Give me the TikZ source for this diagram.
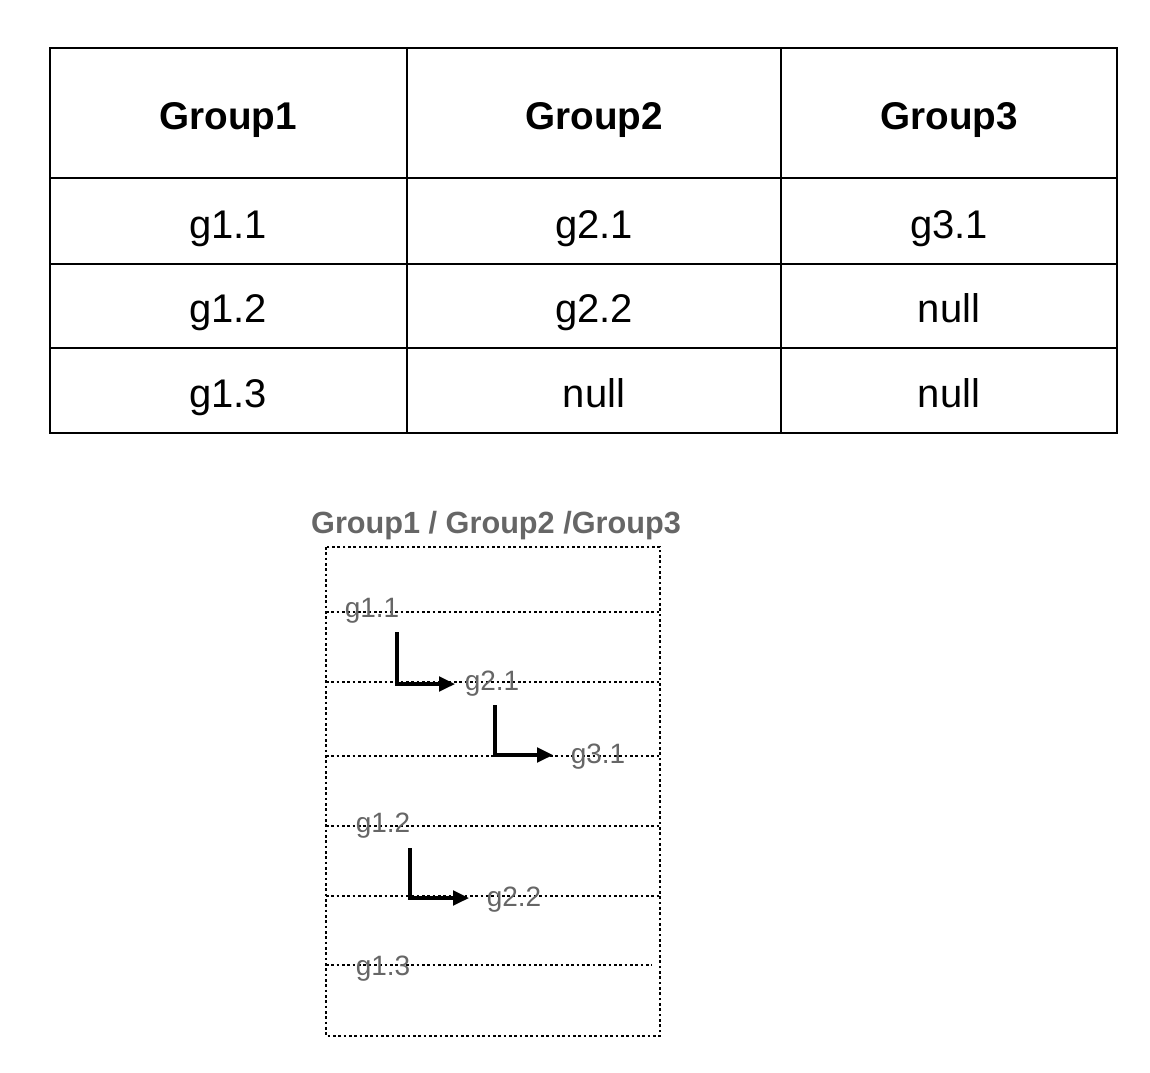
\documentclass[tikz,border=0pt]{standalone}
\usepackage{fontspec}
\setmainfont{Liberation Sans}
\usetikzlibrary{arrows.meta}
\definecolor{lg}{RGB}{102,102,102}
\begin{document}
\begin{tikzpicture}[x=0.75pt,y=-0.75pt,
  hdr/.style={font=\fontsize{29}{32}\selectfont\bfseries,anchor=base},
  cell/.style={font=\fontsize{30}{34}\selectfont,anchor=base},
  lbl/.style={font=\fontsize{21}{24}\selectfont,text=lg,inner sep=0pt,anchor=base},
  sep/.style={dash pattern=on 2pt off 2pt,line width=0.8pt},
  arr/.style={line width=2.4pt,-{Triangle[length=12pt,width=11pt]}}]
\useasboundingbox (0,0) rectangle (1150,1072);
% table
\draw[line width=0.8pt] (50,48) rectangle (1117,433);
\draw[line width=0.8pt] (407,48) -- (407,433) (781,48) -- (781,433)
  (50,264) -- (1117,264) (50,348) -- (1117,348);
\draw[line width=2pt] (50,178) -- (1117,178);
\node[hdr] (h1) at (228,129) {Group1};
\node[hdr] (h2) at (594,129) {Group2};
\node[hdr] (h3) at (949,129) {Group3};
\node[cell] (c11) at (228,238) {g1.1};
\node[cell] (c12) at (594,238) {g2.1};
\node[cell] (c13) at (949,238) {g3.1};
\node[cell] (c21) at (228,322) {g1.2};
\node[cell] (c22) at (594,322) {g2.2};
\node[cell] (c23) at (949,322) {null};
\node[cell] (c31) at (228,407) {g1.3};
\node[cell] (c32) at (594,407) {null};
\node[cell] (c33) at (949,407) {null};
% lower
\node[font=\fontsize{23}{26}\selectfont\bfseries,text=lg,anchor=base] (title) at (496,533) {Group1 / Group2 /Group3};
\draw[sep] (326,547) rectangle (660,1036);
\foreach \y in {612,682,756,826,896} \draw[sep] (326,\y) -- (660,\y);
\draw[sep] (326,965) -- (652,965);
\node[lbl] (a) at (372,617) {g1.1};
\node[lbl] (b) at (492,690) {g2.1};
\node[lbl] (c) at (598,763) {g3.1};
\node[lbl] (d) at (383,832) {g1.2};
\node[lbl] (e) at (514,906) {g2.2};
\node[lbl] (f) at (383,975) {g1.3};
\coordinate (a0) at (397,632);
\coordinate (a1) at (397,684);
\coordinate (a2) at (455,684);
\coordinate (b0) at (495,705);
\coordinate (b1) at (495,755);
\coordinate (b2) at (553,755);
\coordinate (d0) at (410,848);
\coordinate (d1) at (410,898);
\coordinate (d2) at (469,898);
\draw[arr] (a0) -- (a1) -- (a2);
\draw[arr] (b0) -- (b1) -- (b2);
\draw[arr] (d0) -- (d1) -- (d2);
\end{tikzpicture}
\end{document}
